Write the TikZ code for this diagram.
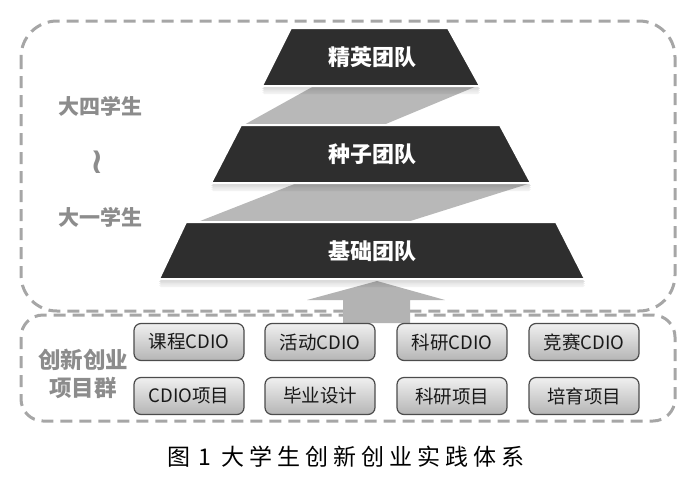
\documentclass[tikz,border=0pt]{standalone}
\usepackage{fontspec}
\setmainfont{Noto Sans CJK SC}
\newfontfamily\capfont[LetterSpace=22]{Noto Sans CJK SC}
\newfontfamily\dejavu{DejaVu Sans}
\usetikzlibrary{shapes.geometric}
\definecolor{dashc}{HTML}{A6A6A6}
\definecolor{trapc}{HTML}{2E2E2E}
\definecolor{bandc}{HTML}{B8B8B8}
\definecolor{labc}{HTML}{8C8C8C}
\definecolor{arrc}{HTML}{B3B3B3}
\tikzset{
  dashbox/.style={draw=dashc, line width=3pt, dash pattern=on 12pt off 7pt},
  trapbox/.style={fill=trapc, draw=white, line width=2pt, line join=miter},
  traptext/.style={text=white, font=\fontsize{22}{24}\selectfont\bfseries},
  sidelab/.style={text=labc, font=\fontsize{21}{24}\selectfont\bfseries, align=center},
  btn/.style={draw=black!70, line width=1.2pt, rounded corners=7pt, top color=gray!12, bottom color=gray!58,
    minimum width=110pt, minimum height=37pt, inner sep=0pt, text=black!90, font=\fontsize{18.5}{20}\selectfont},
  bandfill/.style={fill=bandc},
}
\begin{document}
\begin{tikzpicture}[x=1pt,y=-1pt]
\useasboundingbox (0,0) rectangle (700,479);
% dashed frames
\draw[dashbox, rounded corners=36pt] (21,21) rectangle (675,311);
\draw[dashbox, rounded corners=22pt] (21,315) rectangle (675,421);
% bands
\fill[bandfill] (314,86) -- (477,86) -- (381,126) -- (242,126) -- cycle;
\fill[bandfill] (297,183) -- (531,183) -- (404,223) -- (195,223) -- cycle;
% arrow
\fill[arrc] (343,323) -- (343,300) -- (307,300) -- (377,281) -- (445,300) -- (410,300) -- (410,323) -- cycle;
% shadows
\foreach \o/\op in {2/0.16,4/0.12,6/0.08,8/0.05}{
  \fill[black, opacity=\op] (262,86+\o-2) -- (480,86+\o-2) -- (478,86+\o) -- (264,86+\o) -- cycle;
  \fill[black, opacity=\op] (211,183+\o-2) -- (531,183+\o-2) -- (529,183+\o) -- (213,183+\o) -- cycle;
  \fill[black, opacity=\op] (159,279+\o-2) -- (585,279+\o-2) -- (583,279+\o) -- (161,279+\o) -- cycle;
}
% trapezoids
\draw[trapbox] (291,28) -- (448,28) -- (480,86) -- (262,86) -- cycle;
\draw[trapbox] (241,125) -- (500,125) -- (531,183) -- (211,183) -- cycle;
\draw[trapbox] (186,222) -- (556,222) -- (585,279) -- (159,279) -- cycle;
\node[traptext] (t1) at (372,57) {精英团队};
\node[traptext] (t2) at (372,154) {种子团队};
\node[traptext] (t3) at (372,251) {基础团队};
% side labels
\node[sidelab] (s1) at (100,106) {大四学生};
\node[sidelab, font=\dejavu\fontsize{36}{36}\selectfont\bfseries] (s2) at (97,162) {≀};
\node[sidelab] (s3) at (100,217) {大一学生};
\node[sidelab, font=\fontsize{22.5}{28}\selectfont\bfseries] (s4) at (83,374) {创新创业\\项目群};
% buttons
\node[btn] (b1) at (189,342) {课程CDIO};
\node[btn] (b2) at (320,342) {活动CDIO};
\node[btn] (b3) at (452,342) {科研CDIO};
\node[btn] (b4) at (584,342) {竞赛CDIO};
\node[btn] (b5) at (189,396) {CDIO项目};
\node[btn] (b6) at (320,396) {毕业设计};
\node[btn] (b7) at (452,396) {科研项目};
\node[btn] (b8) at (584,396) {培育项目};
% caption
\node[font=\capfont\fontsize{23}{25}\selectfont, text=black] (cap) at (346,457) {图\hspace{8pt}1\hspace{10pt}大学生创新创业实践体系};
\end{tikzpicture}
\end{document}
